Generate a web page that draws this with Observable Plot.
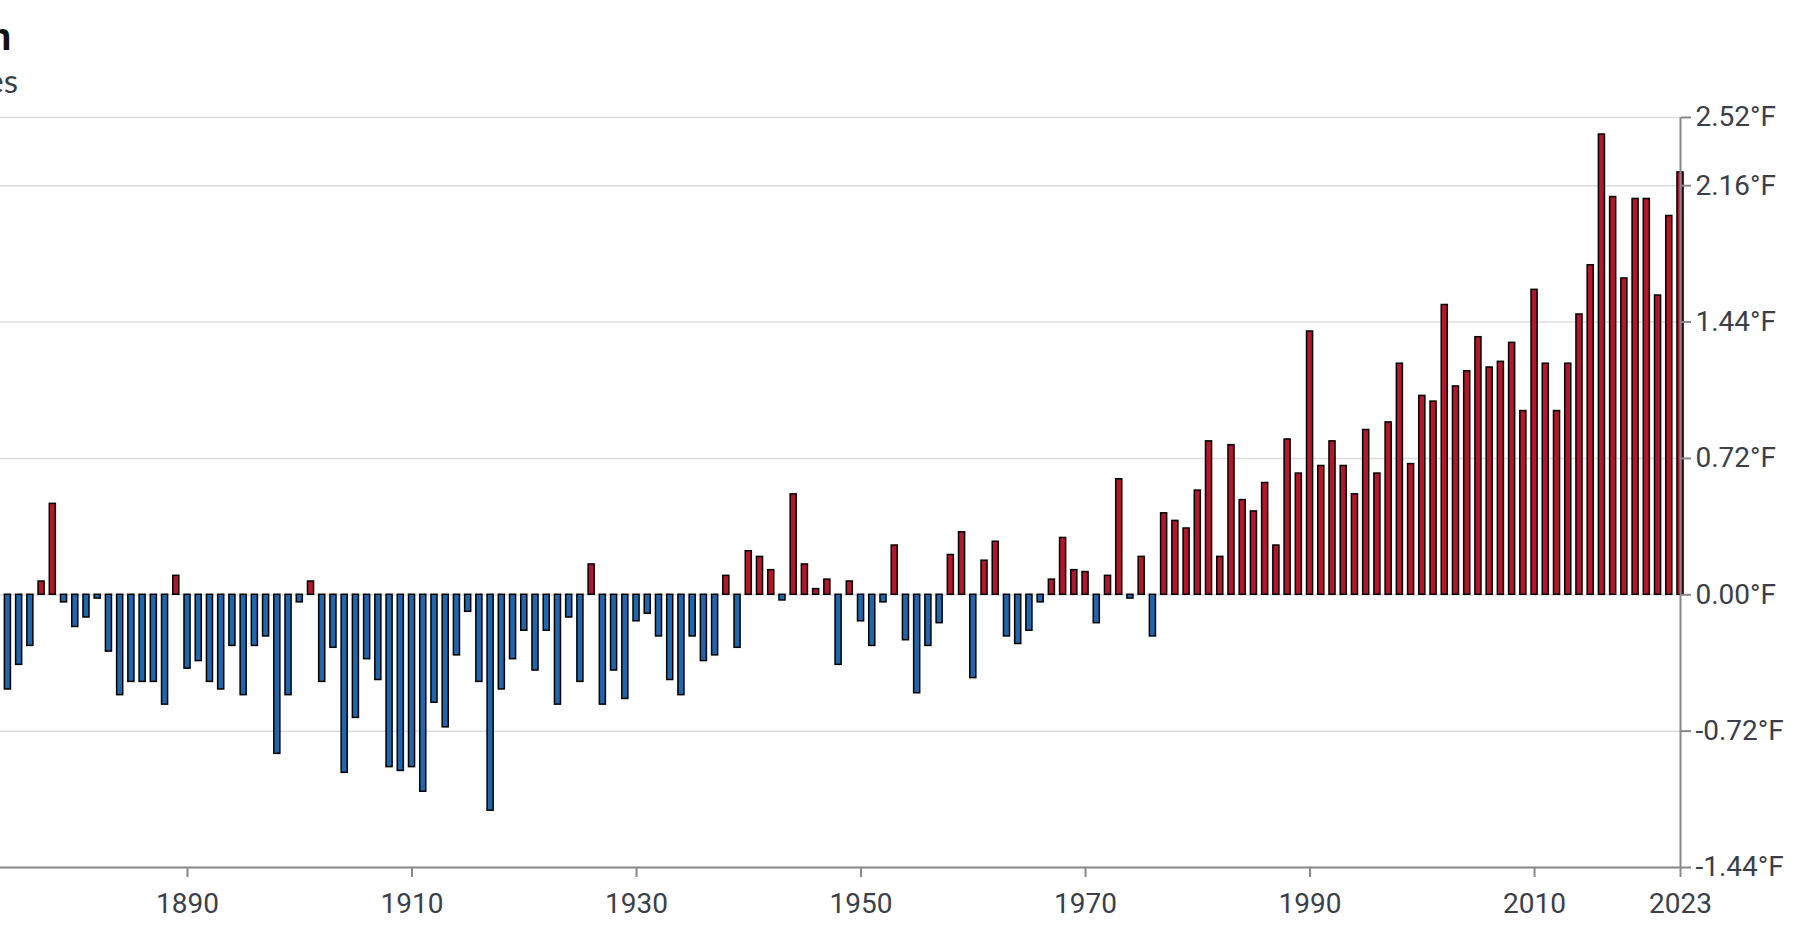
<!DOCTYPE html>
<html>
<head>
<meta charset="utf-8">
<script src="https://cdn.jsdelivr.net/npm/d3@7"></script>
<script src="https://cdn.jsdelivr.net/npm/@observablehq/plot@0.6"></script>
<style>
  html, body { margin: 0; padding: 0; background: #fff; overflow: hidden; width: 1803px; height: 945px; }
  body { position: relative; font-family: Roboto, "Noto Sans", sans-serif; }
  .title, .subtitle { position: absolute; white-space: nowrap; line-height: 1; }
  .title { right: calc(100% - 11px); top: 18px; font-size: 38px; font-weight: 700; color: #111; }
  .subtitle { right: calc(100% - 18px); top: 64px; font-family: Lato, Roboto, sans-serif; font-size: 33px; font-weight: 400; color: #3a3f4b; }
  #chart { position: absolute; left: -272px; top: 0; }
</style>
</head>
<body>
<div class="title">Annual Temperature Anomaly: Northern Hemisphere Land and Ocean</div>
<div class="subtitle">Difference from the 1901–2000 average, in degrees</div>
<div id="chart"></div>
<script>
// Years shown (first visible bar is 1874, last is 2023)
const firstYear = 1874;
// Annual anomalies in °F, one per year from 1874 to 2023
const anomalies = [
  // 1874-1879
  -0.50, -0.37, -0.27, 0.07, 0.48, -0.04,
  // 1880s
  -0.17, -0.12, -0.02, -0.30, -0.53, -0.46, -0.46, -0.46, -0.58, 0.10,
  // 1890s
  -0.39, -0.35, -0.46, -0.50, -0.27, -0.53, -0.27, -0.22, -0.84, -0.53,
  // 1900s
  -0.04, 0.07, -0.46, -0.28, -0.94, -0.65, -0.34, -0.45, -0.91, -0.93,
  // 1910s
  -0.91, -1.04, -0.57, -0.70, -0.32, -0.09, -0.46, -1.14, -0.50, -0.34,
  // 1920s
  -0.19, -0.40, -0.19, -0.58, -0.12, -0.46, 0.16, -0.58, -0.40, -0.55,
  // 1930s
  -0.14, -0.10, -0.22, -0.45, -0.53, -0.22, -0.35, -0.32, 0.10, -0.28,
  // 1940s
  0.23, 0.20, 0.13, -0.03, 0.53, 0.16, 0.03, 0.08, -0.37, 0.07,
  // 1950s
  -0.14, -0.27, -0.04, 0.26, -0.24, -0.52, -0.27, -0.15, 0.21, 0.33,
  // 1960s
  -0.44, 0.18, 0.28, -0.22, -0.26, -0.19, -0.04, 0.08, 0.30, 0.13,
  // 1970s
  0.12, -0.15, 0.10, 0.61, -0.02, 0.20, -0.22, 0.43, 0.39, 0.35,
  // 1980s
  0.55, 0.81, 0.20, 0.79, 0.50, 0.44, 0.59, 0.26, 0.82, 0.64,
  // 1990s
  1.39, 0.68, 0.81, 0.68, 0.53, 0.87, 0.64, 0.91, 1.22, 0.69,
  // 2000s
  1.05, 1.02, 1.53, 1.10, 1.18, 1.36, 1.20, 1.23, 1.33, 0.97,
  // 2010s
  1.61, 1.22, 0.97, 1.22, 1.48, 1.74, 2.43, 2.10, 1.67, 2.09,
  // 2020s
  2.09, 1.58, 2.00, 2.23
];
const xDomain = [1850, 2023];
const xTicks = [1850, 1870, 1890, 1910, 1930, 1950, 1970, 1990, 2010, 2023];
const yDomain = [-1.44, 2.52];
const yTicks = [-1.44, -0.72, 0, 0.72, 1.44, 2.16, 2.52];
const warmColor = "#b2182b";
const coolColor = "#2166ac";

const data = anomalies.map((value, i) => ({year: firstYear + i, value}));

const chart = Plot.plot({
  width: 2075,
  height: 927,
  marginLeft: 10,
  marginRight: 123,
  marginTop: 117,
  marginBottom: 60,
  style: {fontFamily: "Roboto, 'Noto Sans', sans-serif", fontSize: "28px", background: "transparent", color: "#3a3f4b"},
  x: {domain: xDomain, label: null},
  y: {domain: yDomain, label: null},
  marks: [
    Plot.gridY(yTicks, {stroke: "#dcdcdc", strokeOpacity: 1, strokeWidth: 1.5}),
    Plot.rect(data, {
      x1: d => d.year - 0.27,
      x2: d => d.year + 0.27,
      y1: 0,
      y2: "value",
      fill: d => d.value >= 0 ? warmColor : coolColor,
      stroke: "#000",
      strokeWidth: 1.5
    }),
    Plot.ruleY([yDomain[0]], {stroke: "#888", strokeWidth: 2}),
    Plot.ruleX([xDomain[1]], {y1: yDomain[0], y2: yDomain[1], stroke: "#888", strokeWidth: 2}),
    Plot.axisY({anchor: "right", label: null, ticks: yTicks, tickFormat: d => d.toFixed(2) + "°F", tickSize: 10, tickPadding: 5, stroke: "#888", strokeWidth: 2, fill: "#3a3f4b", fontSize: 28}),
    Plot.axisX({anchor: "bottom", label: null, ticks: xTicks, tickFormat: d => String(d), tickSize: 10, tickPadding: 16, stroke: "#888", strokeWidth: 2, fill: "#3a3f4b", fontSize: 28})
  ]
});
document.getElementById("chart").appendChild(chart);
</script>
</body>
</html>
